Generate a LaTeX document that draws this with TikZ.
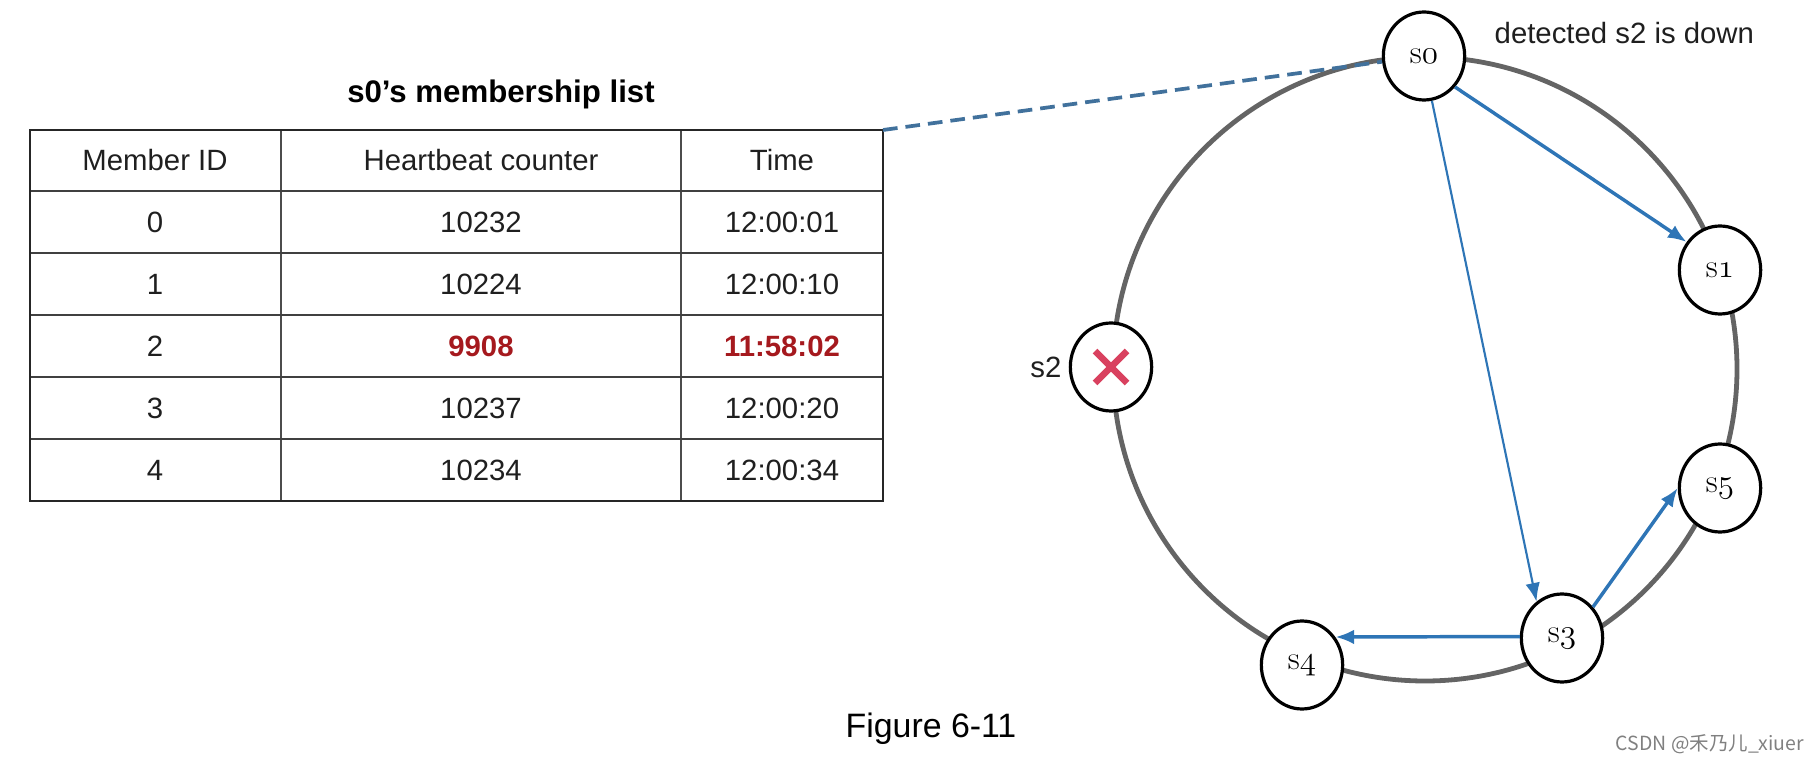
\documentclass[tikz,border=0pt]{standalone}
\usepackage{fontspec}
\setsansfont{Liberation Sans}
\renewcommand{\familydefault}{\sfdefault}
\newfontfamily\cjkfont{Noto Sans CJK SC}
\usepackage{tikz}
\usetikzlibrary{positioning, arrows.meta, shapes.geometric}
\definecolor{ringgray}{HTML}{646464}
\definecolor{arrowblue}{HTML}{2E75B6}
\definecolor{dashblue}{HTML}{41719C}
\definecolor{downred}{HTML}{A5191E}
\definecolor{crossred}{HTML}{D9415F}
\newcommand{\srv}[1]{{\rmfamily s\usefont{OML}{cmm}{m}{it}#1}}

\begin{document}
\begin{tikzpicture}[x=0.75pt, y=-0.75pt,
    server/.style={ellipse, draw=black, line width=2.4pt, fill=white, minimum width=61pt, minimum height=66pt, inner sep=0pt, font=\fontsize{24.88}{28}\selectfont},
    cell/.style={font=\fontsize{22}{26}\selectfont, text=black!88},
    late/.style={font=\fontsize{22}{26}\selectfont\bfseries, text=downred},
    gossip/.style={-{Latex[length=14pt, width=11pt]}, draw=arrowblue, line width=2.6pt},
    thin gossip/.style={gossip, line width=1.6pt},
  ]
  \useasboundingbox (0,0) rectangle (1818,762);

  % membership list of s0
  \node[font=\fontsize{23.4}{27}\selectfont\bfseries] (title) at (501,94) {s0's membership list};
  \draw[black!70, line width=1.3pt] (281,130) -- (281,501) (681,130) -- (681,501);
  \draw[black!75, line width=1.5pt] (30,191) -- (883,191) (30,253) -- (883,253)
    (30,315) -- (883,315) (30,377) -- (883,377) (30,439) -- (883,439);
  \draw[black!85, line width=1.7pt] (30,130) rectangle (883,501);
  \coordinate (tblcorner) at (883,130);

  \node[cell] (c00) at (155,160) {Member ID};
  \node[cell] (c01) at (481,160) {Heartbeat counter};
  \node[cell] (c02) at (782,160) {Time};
  \node[cell] (c10) at (155,222) {0};
  \node[cell] (c11) at (481,222) {10232};
  \node[cell] (c12) at (782,222) {12:00:01};
  \node[cell] (c20) at (155,284) {1};
  \node[cell] (c21) at (481,284) {10224};
  \node[cell] (c22) at (782,284) {12:00:10};
  \node[cell] (c30) at (155,346) {2};
  \node[late] (c31) at (481,346) {9908};
  \node[late] (c32) at (782,346) {11:58:02};
  \node[cell] (c40) at (155,408) {3};
  \node[cell] (c41) at (481,408) {10237};
  \node[cell] (c42) at (782,408) {12:00:20};
  \node[cell] (c50) at (155,470) {4};
  \node[cell] (c51) at (481,470) {10234};
  \node[cell] (c52) at (782,470) {12:00:34};

  % ring of servers
  \coordinate (hub) at (1425,369);
  \draw[ringgray, line width=3.6pt] (hub) circle[radius=234pt];

  \node[server] (s0) at (1424,56) {\srv{0}};
  \node[server] (s1) at (1720,270) {\srv{1}};
  \node[server] (s2) at (1111,367) {};
  \node[server] (s5) at (1720,488) {\srv{5}};
  \node[server] (s3) at (1562,638) {\srv{3}};
  \node[server] (s4) at (1302,665) {\srv{4}};

  \draw[crossred, line width=5pt] ([shift={(-16,-16)}]s2.center) -- ([shift={(16,16)}]s2.center)
    ([shift={(-16,16)}]s2.center) -- ([shift={(16,-16)}]s2.center);
  \node[cell, left=2pt of s2] (s2lbl) {s2};
  \node[cell, anchor=west] (note) at (1490,33) {detected s2 is down};

  \draw[dashblue, line width=2.8pt, dash pattern=on 11pt off 6pt] (tblcorner) -- (s0);
  \draw (s0.-45) edge[gossip] (s1.140);
  \draw (s0.-80) edge[thin gossip] (s3.125);
  \draw (s3.178) edge[gossip] (s4.40);
  \draw (s3.45) edge[gossip] (s5.180);

  \node[font=\fontsize{25.4}{29}\selectfont] (caption) at (931,729) {Figure 6-11};
  \node[text=black!50, font=\cjkfont\fontsize{14.6}{17}\selectfont] (mark) at (1710,744) {CSDN @禾乃儿\_xiuer};
\end{tikzpicture}
\end{document}
